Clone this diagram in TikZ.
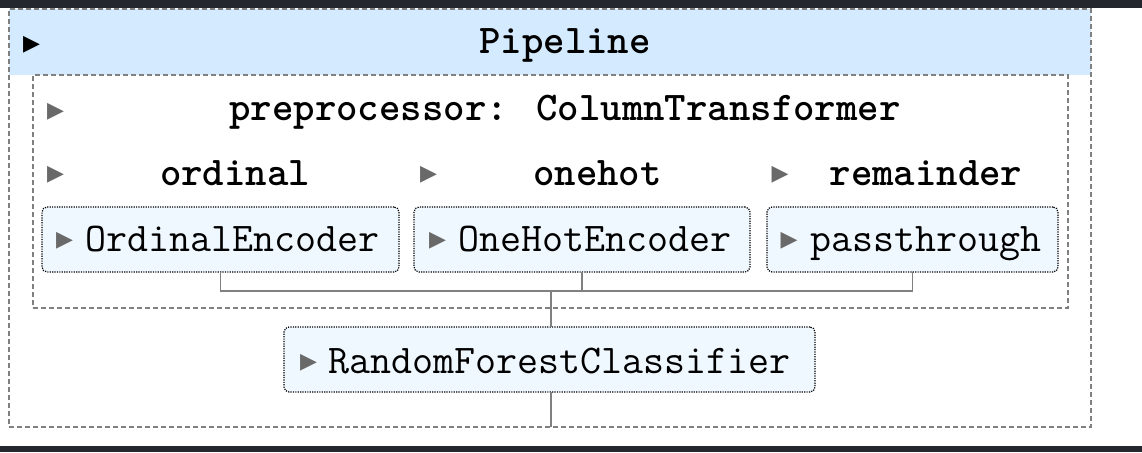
\documentclass[tikz,border=0pt]{standalone}
\usepackage{fontspec}
\newfontfamily\trifont{DejaVu Sans}
\definecolor{hdrblue}{HTML}{D4EBFF}
\definecolor{estfill}{HTML}{F0F8FF}
\definecolor{dashgray}{HTML}{808080}
\definecolor{trigray}{HTML}{696969}
\definecolor{darkbar}{HTML}{24272E}
\tikzset{
  cont/.style={draw=dashgray, line width=1.3pt, dash pattern=on 5pt off 3pt, inner sep=0pt, outer sep=0pt},
  est/.style={draw=black, fill=estfill, line width=1.2pt, dash pattern=on 1.2pt off 1.2pt, rounded corners=5pt, inner sep=0pt, outer sep=0pt, minimum height=65pt},
  conn/.style={draw=dashgray, line width=1.3pt},
  txt/.style={anchor=base west, inner sep=0pt, font=\ttfamily\fontsize{40.8}{44}\selectfont},
  btxt/.style={anchor=base, inner sep=0pt, font=\ttfamily\bfseries\fontsize{40.8}{44}\selectfont},
  tri/.style={anchor=center, inner sep=0pt, text=trigray, font=\trifont\fontsize{22}{24}\selectfont},
}
\begin{document}
\begin{tikzpicture}[x=1pt, y=-1pt]
\useasboundingbox (0,0) rectangle (1142,452);
\fill[white] (0,0) rectangle (1142,452);
\fill[darkbar] (0,0) rectangle (1142,8);
\fill[darkbar] (0,446) rectangle (1142,452);
% header
\node[fill=hdrblue, inner sep=0pt, outer sep=0pt, minimum width=1082pt, minimum height=66pt] (hdr) at (550,42) {};
\node[cont, minimum width=1082pt, minimum height=418pt] (outer) at (550,218) {};
\node[cont, minimum width=1035pt, minimum height=233pt] (inner) at (550.5,191.5) {};
% header texts
\node[tri, text=black] (tpipe) at (31.5,44.5) {▶};
\node[btxt] (pipe) at (565,54) {Pipeline};
\node[tri] (tpre) at (55.5,111.5) {▶};
\node[btxt] (pre) at (565,120) {preprocessor: ColumnTransformer};
% column labels
\node[tri] (tord) at (55.5,175) {▶};
\node[btxt] (lord) at (235,185) {ordinal};
\node[tri] (thot) at (428.5,175) {▶};
\node[btxt] (lhot) at (597.5,185) {onehot};
\node[tri] (trem) at (780,175) {▶};
\node[btxt] (lrem) at (926,185) {remainder};
% estimator boxes
\node[est, minimum width=357pt] (ordbox) at (220.5,239.5) {};
\node[est, minimum width=336pt] (hotbox) at (582,239.5) {};
\node[est, minimum width=291pt] (passbox) at (912.5,239.5) {};
\node[est, minimum width=531pt] (rfbox) at (549.5,359.5) {};
\node[tri] (tordenc) at (64.5,240.5) {▶};
\node[txt] (ordenc) at (85,251) {OrdinalEncoder};
\node[tri] (thotenc) at (437.5,240.5) {▶};
\node[txt] (hotenc) at (458,251) {OneHotEncoder};
\node[tri] (tpassenc) at (789,240.5) {▶};
\node[txt] (passenc) at (810,251) {passthrough};
\node[tri] (trf) at (308.5,363) {▶};
\node[txt] (rf) at (328,373) {RandomForestClassifier};
% connectors
\coordinate (bus) at (551,291);
\draw[conn] (ordbox.south) |- (bus) -| (passbox.south);
\draw[conn] (hotbox.south) -- (hotbox.south |- bus);
\draw[conn] (bus) -- (bus |- rfbox.north);
\draw[conn] (bus |- rfbox.south) -- (bus |- outer.south);
\end{tikzpicture}
\end{document}
